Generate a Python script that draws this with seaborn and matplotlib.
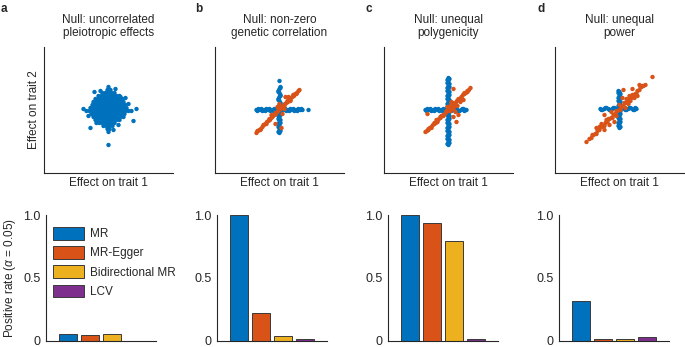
import matplotlib
matplotlib.use("Agg")
import matplotlib.pyplot as plt
import seaborn as sns
import pandas as pd
from matplotlib.patches import Patch

sns.set_theme(style="white")
plt.rcParams["font.family"] = ["Liberation Sans", "DejaVu Sans"]
plt.rcParams["mathtext.fontset"] = "custom"
plt.rcParams["mathtext.it"] = "Liberation Sans:italic"
plt.rcParams["mathtext.rm"] = "Liberation Sans"

# ---------------- data ----------------
BLUE = "#0072BD"
ORANGE = "#D95319"
YELLOW = "#EDB120"
PURPLE = "#7E2F8E"

methods = ["MR", "MR-Egger", "Bidirectional MR", "LCV"]
method_colors = [BLUE, ORANGE, YELLOW, PURPLE]

titles = ["Null: uncorrelated\npleiotropic effects",
          "Null: non-zero\ngenetic correlation",
          "Null: unequal\npolygenicity",
          "Null: unequal\npower"]
panel_letters = ["a", "b", "c", "d"]

rate_a = [0.055, 0.045, 0.055, 0.0]
rate_b = [1.0, 0.22, 0.035, 0.008]
rate_c = [1.0, 0.94, 0.79, 0.008]
rate_d = [0.316, 0.008, 0.008, 0.027]
rates = [rate_a, rate_b, rate_c, rate_d]

ytick_vals = [0, 0.5, 1.0]
ytick_labels = ["0", "0.5", "1.0"]

# Panel a: uncorrelated cloud (blue), rows of y -> x positions
a_rows = {
    20: [-1, 2],
    17: [-6, -3, 0, 3, 6],
    14: [-10, -7, -4, -1, 2, 5, 8, 11],
    11: [-13, -10, -7, -4, -1, 2, 5, 8, 11, 14],
    8: [-15, -12, -9, -6, -3, 0, 3, 6, 9, 12, 15],
    5: [-16, -13, -10, -7, -4, -1, 2, 5, 8, 11, 14, 17],
    2: [-18, -15, -12, -9, -6, -3, 0, 3, 6, 9, 12, 15, 18],
    -1: [-22, -19, -16, -13, -10, -7, -4, -1, 2, 5, 8, 11, 14, 17, 20, 23],
    -4: [-17, -14, -11, -8, -5, -2, 1, 4, 7, 10, 13, 16],
    -7: [-15, -12, -9, -6, -3, 0, 3, 6, 9, 12, 15],
    -10: [-13, -10, -7, -4, -1, 2, 5, 8, 11],
    -13: [-9, -6, -3, 0, 3, 6],
    -16: [-5, -2, 1, 4],
    -19: [-1, 1],
}
a_out_x = [0, 7, -14, 12, 17, -25, 28, 25, -18, 0, 0, -12, 10, -20, 20, -8, 5, -2, 3]
a_out_y = [23, 21, 18, 13, 12, 1, 1, -11, -18, -22, -35, -13, -15, -6, 6, 19, -20, 0, 1]

# Panel b
b_blue_x = [-23, -21, -19, -17, -15, -13, -11, -9, -7, -5, -3, -1, 1, 3, 5, 7, 9, 11, 13, 15, 17, 19, 21, 23, 29,
            -22, -18, -14, -10, -6, -2, 2, 6, 10, 14, 18, 22,
            0, 1, 0, -1, 0, 1, 0, -1, 0, 1, 0, -1, 0, 1, 0, -1, 0, 1, 0, -1, 0, 1, 0, 0,
            -1, 1, -1, 1, -1, 1, -1, 1, -1, 1, -1, 1]
b_blue_y = [0, 1, 0, -1, 0, 1, 0, -1, 0, 1, 0, -1, 0, 1, 0, -1, 0, 1, 0, -1, 0, 1, 0, 0, 0,
            -1, 1, -1, 1, -1, 1, -1, 1, -1, 1, -1, 1,
            -23, -21, -19, -17, -15, -13, -11, -9, -7, -5, -3, 3, 5, 7, 9, 11, 13, 15, 17, 19, 21, 23, 29, 1,
            -22, -18, -14, -10, -6, -2, 2, 6, 10, 14, 18, 22]
b_orange_x = [-23, -21.5, -20, -18.5, -17, -15.5, -14, -12.5, -11, -9.5, -8, -6.5, -5, -3.5, -2, -0.5, 1, 2.5,
              4, 5.5, 7, 8.5, 10, 11.5, 13, 14.5, 16, 17.5, 19, 20,
              -22, -19, -16, -13, -10, -7, -4, -1, 2, 5, 8, 11, 14, 17,
              6, 11, -4, 2, 14, -2, 9, -8, 3, 5, 0]
b_orange_y = [-23, -21, -20, -19, -17, -15, -14, -12, -11, -10, -8, -6, -5, -4, -2, 0, 1, 2,
              4, 6, 7, 8, 10, 12, 13, 14, 16, 17, 19, 20,
              -21, -20, -15, -14, -9, -7, -3, 0, 3, 4, 9, 10, 15, 16,
              13, 9, -14, -18, 15, 3, 13, -5, -4, 1, 6]

# Panel c
c_blue_x = [-23, -21, -19, -17, -15, -13, -11, -9, -7, -5, -3, 3, 5, 7, 9, 11, 13, 15, 17, 18,
            -22, -18, -14, -10, -6, 6, 10, 14, 16,
            0, 1, 0, -1, 0, 1, 0, -1, 0, 1, 0, -1, 0, 1, 0, -1, 0, 1, 0, -1, 0, 1, 0, -1, 0, 1, 0, -1, 0, 1, 0, -1, 0, 1, 0,
            -1, 1, -1, 1, -1, 1, -1, 1, -1, 1, -1, 1, -1, 1, -1, 1]
c_blue_y = [0, 1, 0, -1, 0, 1, 0, -1, 0, 1, 0, -1, 0, 1, 0, -1, 0, 1, 0, 0,
            -1, 1, -1, 1, -1, 1, -1, 1, -1,
            -35, -33, -31, -29, -27, -25, -23, -21, -19, -17, -15, -13, -11, -9, -7, -5, -3, -1, 1, 3, 5, 7, 9, 11, 13, 15, 17, 19, 21, 23, 25, 27, 29, 31, 32,
            -34, -30, -26, -22, -18, -14, -10, -6, 6, 10, 14, 18, 22, 26, 30, -2]
c_orange_x = [-23, -21.5, -20, -18.5, -17, -15.5, -14, -12.5, -11, -9.5, -8, -6.5, -5, -3.5, -2, -0.5, 1, 2.5,
              4, 5.5, 7, 8.5, 10, 11.5, 13, 14.5, 16, 17.5, 19, 20.5, 22,
              -20, -17, -14, -11, -8, -5, -2, 1, 4, 7, 10, 13, 16, 19,
              0, 2, 4, 1, 3, 5, -1, 6, 2, 4,
              5, -21, 8, 5, 10, 15, -7, 3, 9, -12, 7, 12]
c_orange_y = [-22, -21, -20, -18, -17, -15, -14, -13, -11, -9, -8, -6, -5, -4, -2, -1, 1, 3,
              4, 5, 7, 9, 10, 11, 13, 15, 16, 17, 19, 20, 22,
              -19, -18, -13, -12, -7, -6, -1, 2, 5, 6, 11, 12, 17, 18,
              2, 4, 3, 0, 6, 1, 3, 4, -1, 7,
              21, -4, -12, -7, -5, 10, -6, 8, 4, -10, -2, 8]

# Panel d
d_blue_x = [-19, -17, -15, -13, -11, -9, -7, -5, -3, -1, 1, 3, 5, 7, 9, 11, 13, 15, 17,
            -18, -14, -10, -6, -2, 2, 6, 10, 14, 16,
            0, -1, 0, 1, 0, -1, 0, 1, 0, -1, 0, 1, 0, -1, 0, 1, 0, -1, 0,
            1, -1, 1, -1, 1, -1, 1, -1, 1]
d_blue_y = [1, 0, 1, 2, 1, 0, 1, 2, 1, 0, 1, 2, 1, 0, 1, 2, 1, 0, 1,
            0, 2, 0, 2, 0, 2, 0, 2, 0, 2,
            -18, -16, -14, -12, -10, -8, -6, -4, -2, 4, 6, 8, 10, 12, 14, 16, 18, 19, 3,
            -17, -13, -9, -5, 5, 9, 13, 17, -1]
d_orange_x = [-33, -30, -28, -26, -24, -22, -20, -18, -16, -14, -12, -10, -8, -6, -4, -2, 0, 2, 4, 6, 8, 10,
              12, 14, 16, 18, 20, 22, 24, 26, 33,
              -27, -23, -19, -15, -11, -7, -3, 1, 5, 9, 13, 17, 21,
              4, 13, 20, 23, -15, -13, -20, -15, -23, 7, 10, -8, 3, -5, 15, -10, 11, -18, 0, -3, 6, 18, 9]
d_orange_y = [-32, -29, -28, -25, -24, -21, -20, -17, -16, -13, -12, -9, -8, -5, -4, -1, 0, 3, 4, 7, 8, 11,
              12, 15, 16, 19, 20, 23, 24, 25, 33,
              -25, -24, -17, -16, -9, -8, -1, 0, 7, 8, 15, 16, 23,
              20, 21, 25, 24, -5, -10, -17, -20, -18, 11, 14, -2, 12, -12, 12, -15, 9, -14, 5, -6, 2, 14, 6]

a_x, a_y = [], []
for yy, xs in a_rows.items():
    a_x += xs
    a_y += [yy] * len(xs)
a_x += a_out_x
a_y += a_out_y

scatter_sets = [
    [(a_x, a_y, BLUE)],
    [(b_blue_x, b_blue_y, BLUE), (b_orange_x, b_orange_y, ORANGE)],
    [(c_blue_x, c_blue_y, BLUE), (c_orange_x, c_orange_y, ORANGE)],
    [(d_blue_x, d_blue_y, BLUE), (d_orange_x, d_orange_y, ORANGE)],
]

# ---------------- layout ----------------
W, H = 685, 347
fig = plt.figure(figsize=(W / 100, H / 100), dpi=100)

top_left = [44, 215, 384, 555]
bot_left = [46, 217, 388, 559]
SPINE = "#262626"
FS = 8.5
BOT = 340.5

for i in range(4):
    # scatter
    ax = fig.add_axes([top_left[i] / W, (H - 173) / H, 129 / W, 126 / H])
    for xs, ys, col in scatter_sets[i]:
        sns.scatterplot(x=xs, y=ys, color=col, s=10, linewidth=0, edgecolor="none",
                        ax=ax, legend=False)
    ax.set_xlim(-64.5, 64.5)
    ax.set_ylim(-63, 63)
    ax.set_xticks([])
    ax.set_yticks([])
    for s in ["top", "right"]:
        ax.spines[s].set_visible(False)
    for s in ["left", "bottom"]:
        ax.spines[s].set_color(SPINE)
        ax.spines[s].set_linewidth(0.8)
    ax.set_xlabel("Effect on trait 1", fontsize=FS, labelpad=3)
    if i == 0:
        ax.set_ylabel("Effect on trait 2", fontsize=FS, labelpad=3)
    cx = (top_left[i] + 64.5) / W
    fig.text(cx, 1 - 26.5 / H, titles[i], ha="center", va="center",
             fontsize=FS, linespacing=1.1)
    lx = [1, 195, 366, 537][i]
    fig.text(lx / W, 1 - 8.5 / H, panel_letters[i], ha="left", va="center",
             fontsize=8.5, fontweight="bold")

    # bars
    bx = fig.add_axes([bot_left[i] / W, (H - BOT) / H, 110 / W, (BOT - 215) / H])
    df = pd.DataFrame({"method": methods, "rate": rates[i]})
    sns.barplot(data=df, x="method", y="rate", hue="method", palette=method_colors,
                order=methods, hue_order=methods, width=0.8, edgecolor="#3a3a3a",
                linewidth=0.7, saturation=1, legend=False, ax=bx)
    bx.set_xlim(-1, 4)
    bx.set_ylim(0, 1)
    bx.set_xticks([])
    bx.set_yticks(ytick_vals)
    bx.set_yticklabels(ytick_labels, fontsize=9)
    bx.tick_params(axis="y", direction="in", length=2.5, width=0.7, color=SPINE, pad=4)
    bx.set_xlabel("")
    bx.set_ylabel("")
    for s in ["top", "right"]:
        bx.spines[s].set_visible(False)
    for s in ["left", "bottom"]:
        bx.spines[s].set_color(SPINE)
        bx.spines[s].set_linewidth(0.8)
    if i == 0:
        bx.set_ylabel(r"Positive rate ($\alpha$ = 0.05)", fontsize=FS, labelpad=4)
        handles = [Patch(facecolor=c, edgecolor="#3a3a3a", linewidth=0.7) for c in method_colors]
        bx.legend(handles, methods, loc="upper left", bbox_to_anchor=(0.064, 0.903),
                  frameon=False, fontsize=FS, handlelength=2.6, handleheight=1.25,
                  handletextpad=0.5, labelspacing=0.5, borderpad=0, borderaxespad=0)

fig.savefig("out.png", dpi=100)
